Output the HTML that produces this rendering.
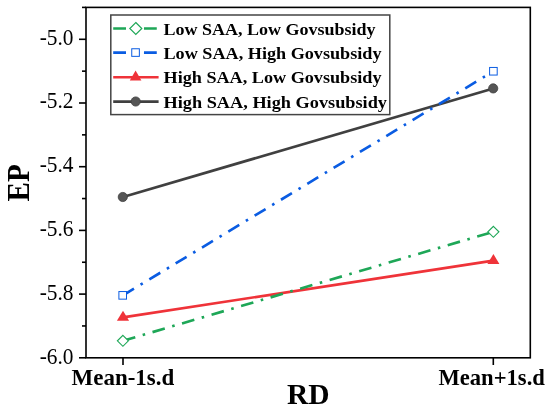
<!DOCTYPE html>
<html><head><meta charset="utf-8"><style>
html,body{margin:0;padding:0;background:#fff;width:550px;height:412px;overflow:hidden}
svg{display:block;will-change:transform}
text{font-family:"Liberation Serif",serif}
</style></head><body>
<svg width="550" height="412" viewBox="0 0 550 412">
<rect width="550" height="412" fill="#fff"/>
<!-- data lines -->
<g fill="none" stroke-width="2.65" stroke-linecap="butt">
  <line x1="123" y1="197" x2="493.3" y2="88.4" stroke="#404040"/>
  <line x1="123" y1="317.4" x2="493.3" y2="260.6" stroke="#EF3339"/>
  <line x1="123" y1="295.3" x2="493.3" y2="71.3" stroke="#0A5CE2" stroke-dasharray="12.8 7.7 2.57 7.7"/>
  <line x1="123" y1="340.8" x2="493.3" y2="231.8" stroke="#1EA757" stroke-dasharray="12.8 7.7 2.57 7.7"/>
</g>
<!-- symbols -->
<circle cx="122.8" cy="197" r="4.6" fill="#555" stroke="#404040" stroke-width="0.8"/>
<circle cx="493.2" cy="88.4" r="4.6" fill="#555" stroke="#404040" stroke-width="0.8"/>
<path d="M123 310.7 L129.1 320.8 L116.9 320.8 Z" fill="#EF3339"/>
<path d="M493.4 254 L499.4 264 L487.4 264 Z" fill="#EF3339"/>
<rect x="118.9" y="291.55" width="7.6" height="7.6" fill="#fff" stroke="#0A5CE2" stroke-width="1.0"/>
<rect x="489.6" y="67.45" width="7.6" height="7.6" fill="#fff" stroke="#0A5CE2" stroke-width="1.0"/>
<path d="M122.9 335.3 L128.4 340.8 L122.9 346.3 L117.4 340.8 Z" fill="#fff" stroke="#1EA757" stroke-width="1.15"/>
<path d="M493.4 226.3 L498.9 231.8 L493.4 237.3 L487.9 231.8 Z" fill="#fff" stroke="#1EA757" stroke-width="1.15"/>

<!-- frame -->
<rect x="86" y="7.4" width="444.3" height="350.4" fill="none" stroke="#000" stroke-width="1.6"/>
<!-- y ticks -->
<g stroke="#000" stroke-width="1.6">
  <line x1="79" y1="39.3" x2="86" y2="39.3"/>
  <line x1="79" y1="103" x2="86" y2="103"/>
  <line x1="79" y1="166.7" x2="86" y2="166.7"/>
  <line x1="79" y1="230.4" x2="86" y2="230.4"/>
  <line x1="79" y1="294.1" x2="86" y2="294.1"/>
  <line x1="79" y1="357.8" x2="86" y2="357.8"/>
  <line x1="82" y1="7.4" x2="86" y2="7.4"/>
  <line x1="82" y1="71.15" x2="86" y2="71.15"/>
  <line x1="82" y1="134.85" x2="86" y2="134.85"/>
  <line x1="82" y1="198.55" x2="86" y2="198.55"/>
  <line x1="82" y1="262.25" x2="86" y2="262.25"/>
  <line x1="82" y1="325.95" x2="86" y2="325.95"/>
  <line x1="123" y1="357.8" x2="123" y2="365"/>
  <line x1="493.3" y1="357.8" x2="493.3" y2="365"/>
</g>
<!-- y tick labels -->
<g font-size="22.5" text-anchor="end" fill="#000">
  <text x="73.5" y="44.7" textLength="33.8" lengthAdjust="spacingAndGlyphs">-5.0</text>
  <text x="73.5" y="108.4" textLength="33.8" lengthAdjust="spacingAndGlyphs">-5.2</text>
  <text x="73.5" y="172.1" textLength="33.8" lengthAdjust="spacingAndGlyphs">-5.4</text>
  <text x="73.5" y="235.8" textLength="33.8" lengthAdjust="spacingAndGlyphs">-5.6</text>
  <text x="73.5" y="299.5" textLength="33.8" lengthAdjust="spacingAndGlyphs">-5.8</text>
  <text x="73.5" y="363.6" textLength="33.8" lengthAdjust="spacingAndGlyphs">-6.0</text>
</g>
<!-- x tick labels -->
<g font-size="23" font-weight="bold" fill="#000">
  <text x="71.5" y="385.2" textLength="102.8" lengthAdjust="spacingAndGlyphs">Mean-1s.d</text>
  <text x="438.4" y="385.2" textLength="106.5" lengthAdjust="spacingAndGlyphs">Mean+1s.d</text>
</g>
<!-- axis titles -->
<text x="287" y="404.4" font-size="29.5" font-weight="bold">RD</text>
<text transform="translate(28.6 201.4) rotate(-90)" font-size="32" font-weight="bold" textLength="37.1" lengthAdjust="spacingAndGlyphs">EP</text>

<!-- legend -->
<rect x="110.8" y="15" width="279" height="99.6" fill="#fff" stroke="#444" stroke-width="1.5"/>
<g fill="none" stroke-width="2.65">
  <line x1="113.2" y1="28.5" x2="158.6" y2="28.5" stroke="#1EA757" stroke-dasharray="12.8 7.7 2.57 7.7"/>
  <line x1="113.2" y1="52.6" x2="158.6" y2="52.6" stroke="#0A5CE2" stroke-dasharray="12.8 7.7 2.57 7.7"/>
  <line x1="113.2" y1="77.25" x2="158.6" y2="77.25" stroke="#EF3339"/>
  <line x1="113.2" y1="101.6" x2="158.6" y2="101.6" stroke="#404040"/>
</g>
<path d="M135.8 22.5 L141.8 28.5 L135.8 34.5 L129.8 28.5 Z" fill="#fff" stroke="#1EA757" stroke-width="1.15"/>
<rect x="131.75" y="48.75" width="7.6" height="7.6" fill="#fff" stroke="#0A5CE2" stroke-width="1.0"/>
<path d="M135.6 70.6 L141.4 80.6 L129.8 80.6 Z" fill="#EF3339"/>
<circle cx="135.7" cy="101.5" r="4.6" fill="#555" stroke="#404040" stroke-width="0.8"/>
<g font-size="16.5" font-weight="bold" fill="#000">
  <text x="163.5" y="35" textLength="212.1" lengthAdjust="spacingAndGlyphs">Low SAA, Low Govsubsidy</text>
  <text x="163.5" y="59" textLength="218" lengthAdjust="spacingAndGlyphs">Low SAA, High Govsubsidy</text>
  <text x="163.5" y="83.3" textLength="218" lengthAdjust="spacingAndGlyphs">High SAA, Low Govsubsidy</text>
  <text x="163.5" y="107.5" textLength="223.5" lengthAdjust="spacingAndGlyphs">High SAA, High Govsubsidy</text>
</g>
</svg>
</body></html>
